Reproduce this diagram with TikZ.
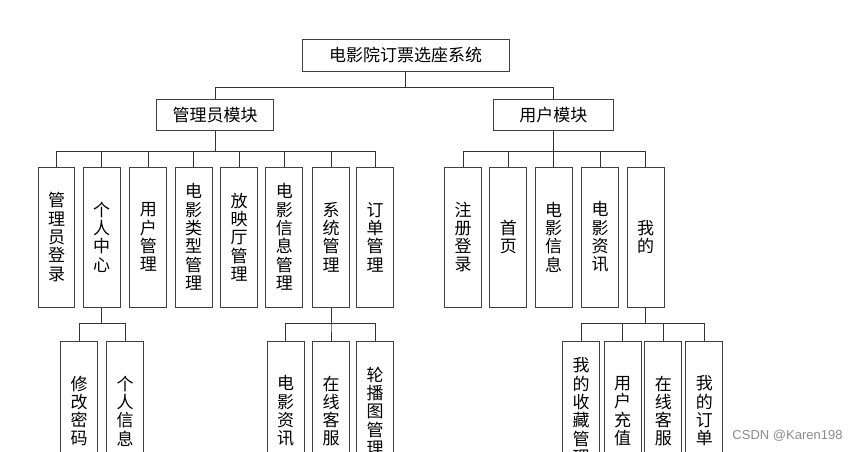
\documentclass[tikz,border=0pt]{standalone}
\usepackage{fontspec}
\setmainfont{Noto Sans CJK SC}
\newfontfamily\markfont{Liberation Sans}
\usepackage{xcolor}

\begin{document}
\begin{tikzpicture}[x=1pt,y=-1pt,
    box/.style={draw=black!75,line width=1pt,inner sep=0pt,
        font=\fontsize{17}{18.3}\selectfont},
    col/.style={box,minimum width=36.7,minimum height=140,align=center},
    link/.style={draw=black!80,line width=0.8pt}]
    \useasboundingbox (0,0) rectangle (859,451);
    \clip (0,0) rectangle (859,451);

    \node[box,minimum width=207,minimum height=32] (root) at (405.5,55) {电影院订票选座系统};
    \node[box,minimum width=117.4,minimum height=30.7] (adm) at (215,115.3) {管理员模块};
    \node[box,minimum width=120,minimum height=30.7] (usr) at (553.3,115.3) {用户模块};

    % admin side
    \foreach \n/\x/\t in {1/56.5/{管\\理\\员\\登\\录}, 2/101.7/{个\\人\\中\\心},
        3/148.3/{用\\户\\管\\理}, 4/193.7/{电\\影\\类\\型\\管\\理},
        5/239/{放\\映\\厅\\管\\理}, 6/284.3/{电\\影\\信\\息\\管\\理},
        7/331/{系\\统\\管\\理}, 8/375/{订\\单\\管\\理}}
        \node[col] (a\n) at (\x,237) {\t};
    % user side
    \foreach \n/\x/\t in {1/463/{注\\册\\登\\录}, 2/508.3/{首\\页},
        3/553.7/{电\\影\\信\\息}, 4/600/{电\\影\\资\\讯}, 5/645.7/{我\\的}}
        \node[col] (b\n) at (\x,237) {\t};

    % third level
    \foreach \n/\x/\t in {1/79/{修\\改\\密\\码}, 2/125/{个\\人\\信\\息}}
        \node[col] (c\n) at (\x,411) {\t};
    \foreach \n/\x/\t in {1/285.7/{电\\影\\资\\讯}, 2/331/{在\\线\\客\\服},
        3/375/{轮\\播\\图\\管\\理}}
        \node[col] (d\n) at (\x,411) {\t};
    \foreach \n/\x/\t in {1/581/{我\\的\\收\\藏\\管\\理}, 2/622.7/{用\\户\\充\\值},
        3/663.3/{在\\线\\客\\服}, 4/704.3/{我\\的\\订\\单}}
        \node[col] (e\n) at (\x,411) {\t};

    \draw[link] (root.south) -- ++(0,15.7) -| (adm.north);
    \draw[link] (root.south) -- ++(0,15.7) -| (usr.north);
    \foreach \n in {1,...,8} \draw[link] (adm.south) -- ++(0,20.6) -| (a\n.north);
    \foreach \n in {1,...,5} \draw[link] (usr.south) -- ++(0,20.6) -| (b\n.north);
    \foreach \n in {1,2} \draw[link] (a2.south) -- ++(0,16) -| (c\n.north);
    \foreach \n in {1,2,3} \draw[link] (a7.south) -- ++(0,16) -| (d\n.north);
    \foreach \n in {1,...,4} \draw[link] (b5.south) -- ++(0,16) -| (e\n.north);

    \node[text=black!45,font=\markfont\fontsize{13}{15}\selectfont] (mark) at (787.5,436) {CSDN @Karen198};
\end{tikzpicture}
\end{document}
